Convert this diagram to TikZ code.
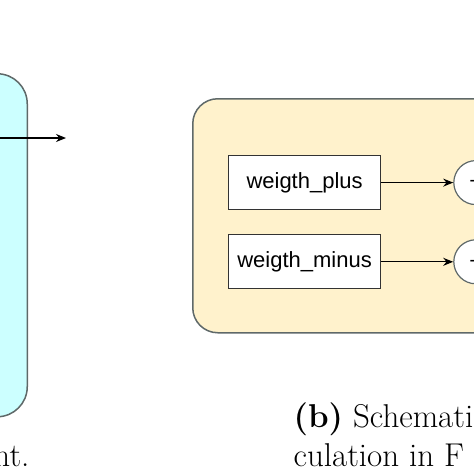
\documentclass[tikz,border=0pt]{standalone}
\usepackage{fontspec}
\newfontfamily\arialfont{Liberation Sans}
\usepackage{tikz}
\usetikzlibrary{positioning, calc}
\usetikzlibrary{arrows.meta}

\begin{document}
\begin{tikzpicture}[x=1pt, y=-1pt, node distance=24pt, >={Stealth[length=10pt, width=8pt]}, line width=1.2pt]
        % Define colors
        \definecolor{lightcyan}{RGB}{204,255,255}
        \definecolor{lightyellow}{RGB}{255,242,204}
        \definecolor{framegray}{RGB}{95,105,105}

        \useasboundingbox (0,0) rectangle (474,474);
        \clip (0,0) rectangle (474,474);

        % Panels
        \node[draw=framegray, fill=lightcyan, line width=1.5pt, rounded corners=30pt, minimum width=200pt, minimum height=343pt, anchor=north east] (panela) at (28,73) {};
        \node[draw=framegray, fill=lightyellow, line width=1.5pt, rounded corners=25pt, minimum width=400pt, minimum height=234pt, anchor=north west] (panelb) at (192,98) {};

        % Nodes
        \node[draw=black!80, fill=white, minimum width=152pt, minimum height=54pt, font=\arialfont\fontsize{22}{26}\selectfont, anchor=north west] (wplus) at (228,155) {weigth\_plus};
        \node[draw=black!80, fill=white, minimum width=152pt, minimum height=54pt, font=\arialfont\fontsize{22}{26}\selectfont, below=of wplus] (wminus) {weigth\_minus};
        \node[draw=framegray, circle, fill=white, minimum size=44pt, font=\arialfont\fontsize{22}{26}\selectfont, right=72pt of wplus] (sumplus) {+};
        \node[draw=framegray, circle, fill=white, minimum size=44pt, font=\arialfont\fontsize{22}{26}\selectfont, right=72pt of wminus] (summinus) {+};

        \coordinate (outa) at (66,138);
        \coordinate (inplus) at ($(sumplus.south)+(16,34)$);
        \coordinate (inminus) at ($(summinus.south)+(16,34)$);

        % Captions
        \node[anchor=base west, inner sep=0pt, font=\fontsize{33}{40}\selectfont] (capb) at (293,427) {\textbf{(b)} Schemati};
        \node[anchor=base west, inner sep=0pt, font=\fontsize{33}{40}\selectfont] (capbb) at (293,466) {culation in F};
        \node[anchor=base east, inner sep=0pt, font=\fontsize{33}{40}\selectfont] (capa) at (30,466) {nt.};

        % Edges
        \draw[->] (panela.west |- outa) -- (outa);
        \foreach \a/\b in {wplus/sumplus, wminus/summinus} {
            \draw[->] (\a) -- (\b);
        }
        \draw[->] (inplus) -- (sumplus.-80);
        \draw[->] (inminus) -- (summinus.-80);
    \end{tikzpicture}
\end{document}
